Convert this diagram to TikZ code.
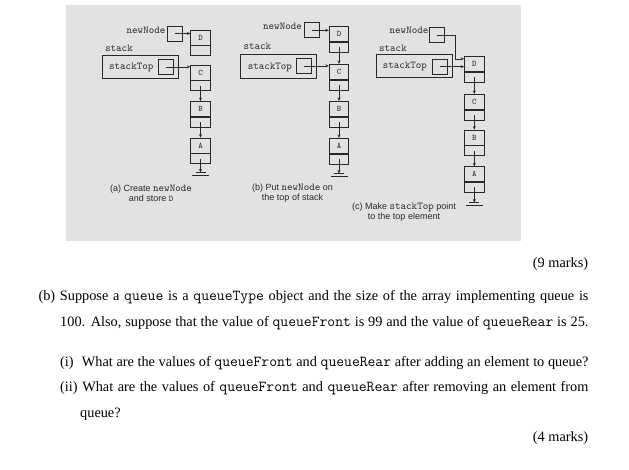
\documentclass[tikz,border=0pt]{standalone}
\usepackage{fontspec}
\setmainfont{Liberation Serif}
\newfontfamily\dsans{Liberation Sans}
\usetikzlibrary{arrows.meta}
\definecolor{bggray}{RGB}{225,226,228}
\definecolor{ink}{RGB}{40,40,40}
\newcommand{\cd}[1]{{\ttfamily\fontsize{15.2}{15}\selectfont #1}}
\newcommand{\dc}[1]{{\ttfamily\fontsize{10.5}{10}\selectfont #1}}
\newcommand{\dcs}[1]{{\ttfamily\fontsize{8.5}{10}\selectfont #1}}
\begin{document}
\begin{tikzpicture}[x=1pt,y=-1pt,
  info/.style={draw=ink, line width=0.7pt, minimum width=19.6pt, minimum height=15pt, inner sep=0pt, font=\ttfamily\fontsize{8.5}{8}\selectfont, text=ink},
  lnk/.style={draw=ink, line width=0.7pt, minimum width=19.6pt, minimum height=10pt, inner sep=0pt, anchor=north},
  ptr/.style={draw=ink, line width=0.7pt, minimum width=15pt, minimum height=15pt, inner sep=0pt},
  frame/.style={draw=ink, line width=0.7pt, inner sep=0pt},
  lbl/.style={font=\ttfamily\fontsize{10.5}{10}\selectfont, text=ink, inner sep=0pt, text height=5.5pt, text depth=0pt},
  capt/.style={font=\dsans\fontsize{9}{10}\selectfont, text=ink, align=center, inner sep=0pt},
  con/.style={draw=ink, line width=0.6pt, -{Stealth[length=3.5pt,width=3pt]}},
  gnd/.style={draw=ink, line width=0.7pt},
  txt/.style={font=\fontsize{14.3}{17}\selectfont, inner sep=0pt, text=black}
]
\fill[white] (0,0) rectangle (629,469);
\useasboundingbox (0,0) rectangle (629,469);
\fill[bggray] (66,5) rectangle (521,241);

% ---------- panel (a)
\node[lbl, anchor=east] (aNewL) at (165.5,31) {newNode};
\node[ptr] (aNew) at (174.5,33.5) {};
\node[lbl, anchor=west] (aStackL) at (105,49) {stack};
\node[frame, minimum width=76pt, minimum height=23.3pt] (aStack) at (140.3,66.7) {};
\node[lbl, anchor=west] (aTopL) at (109,66.7) {stackTop};
\node[ptr] (aTop) at (165.9,66.8) {};
\node[info] (aD) at (200.5,37.5) {D};  \node[lnk] (aDl) at (aD.south) {};
\node[info] (aC) at (200.5,72.5) {C};  \node[lnk] (aCl) at (aC.south) {};
\node[info] (aB) at (200.5,109) {B};   \node[lnk] (aBl) at (aB.south) {};
\node[info] (aA) at (200.5,145.5) {A}; \node[lnk] (aAl) at (aA.south) {};
\draw[con] (aNew.center) -- (aNew.center -| aD.west);
\draw[con] (aTop.center) -- (aTop.center -| aC.west);
\draw[con] (aCl.center) -- (aB.north);
\draw[con] (aBl.center) -- (aA.north);
\coordinate (aG) at (200.5,172.5);
\draw[con] (aAl.center) -- (aG);
\draw[gnd] ([xshift=-5pt]aG) -- ([xshift=5pt]aG);
\draw[gnd] ([xshift=-8.5pt,yshift=-2.5pt]aG) -- ([xshift=8.5pt,yshift=-2.5pt]aG);
\node[capt] (aCap) at (151,193.5) {(a) Create \dc{newNode}\\and store \dcs{D}};

% ---------- panel (b)
\node[lbl, anchor=east] (bNewL) at (302,27) {newNode};
\node[ptr] (bNew) at (311.7,30.3) {};
\node[lbl, anchor=west] (bStackL) at (243.3,46.7) {stack};
\node[frame, minimum width=76pt, minimum height=24pt] (bStack) at (278.7,66.4) {};
\node[lbl, anchor=west] (bTopL) at (247.7,66.7) {stackTop};
\node[ptr] (bTop) at (304.2,65.8) {};
\node[info] (bD) at (339,34.2) {D};    \node[lnk] (bDl) at (bD.south) {};
\node[info] (bC) at (339,71.8) {C};    \node[lnk] (bCl) at (bC.south) {};
\node[info] (bB) at (339,108.8) {B};   \node[lnk] (bBl) at (bB.south) {};
\node[info] (bA) at (339,145.8) {A};   \node[lnk] (bAl) at (bA.south) {};
\draw[con] (bNew.center) -- (bNew.center -| bD.west);
\draw[con] (bTop.center) -- (bTop.center -| bC.west);
\draw[con] (bDl.center) -- (bC.north);
\draw[con] (bCl.center) -- (bB.north);
\draw[con] (bBl.center) -- (bA.north);
\coordinate (bG) at (339,173.5);
\draw[con] (bAl.center) -- (bG);
\draw[gnd] ([xshift=-5pt]bG) -- ([xshift=5pt]bG);
\draw[gnd] ([xshift=-8.5pt,yshift=-2.5pt]bG) -- ([xshift=8.5pt,yshift=-2.5pt]bG);
\node[capt] (bCap) at (292.5,193.3) {(b) Put \dc{newNode} on\\the top of stack};

% ---------- panel (c)
\node[lbl, anchor=east] (cNewL) at (428.5,31) {newNode};
\node[ptr] (cNew) at (436.8,35.2) {};
\node[lbl, anchor=west] (cStackL) at (379,48.3) {stack};
\node[frame, minimum width=76.3pt, minimum height=23.4pt] (cStack) at (414.2,66) {};
\node[lbl, anchor=west] (cTopL) at (382.7,66) {stackTop};
\node[ptr] (cTop) at (439.5,66.7) {};
\node[info] (cD) at (474.3,64.2) {D};  \node[lnk] (cDl) at (cD.south) {};
\node[info] (cC) at (474.3,101.8) {C}; \node[lnk] (cCl) at (cC.south) {};
\node[info] (cB) at (474.3,137.5) {B}; \node[lnk] (cBl) at (cB.south) {};
\node[info] (cA) at (474.3,174.2) {A}; \node[lnk] (cAl) at (cA.south) {};
\coordinate (cBend) at (455,58.8);
\draw[con] (cNew.center) -| (cBend) -- (cBend -| cD.west);
\draw[con] (cTop.center) -- (cTop.center -| cD.west);
\draw[con] (cDl.center) -- (cC.north);
\draw[con] (cCl.center) -- (cB.north);
\draw[con] (cBl.center) -- (cA.north);
\coordinate (cG) at (474.3,202.5);
\draw[con] (cAl.center) -- (cG);
\draw[gnd] ([xshift=-5pt]cG) -- ([xshift=5pt]cG);
\draw[gnd] ([xshift=-8.5pt,yshift=-2.5pt]cG) -- ([xshift=8.5pt,yshift=-2.5pt]cG);
\node[capt] (cCap) at (404,212.4) {(c) Make \dc{stackTop} point\\to the top element};

% ---------- question text
\node[txt, anchor=base east] (m9) at (588.3,267) {(9 marks)};
\node[txt, anchor=base west] (l1) at (38.3,300) {\makebox[550pt][s]{(b) Suppose a \cd{queue} is a \cd{queueType} object and the size of the array implementing queue is}};
\node[txt, anchor=base west] (l2) at (60,326) {\makebox[528.3pt][s]{100. Also, suppose that the value of \cd{queueFront} is 99 and the value of \cd{queueRear} is 25.}};
\node[txt, anchor=base west] (i1) at (60,366) {(i)};
\node[txt, anchor=base west] (i2) at (81.7,366) {\makebox[506.6pt][s]{What are the values of \cd{queueFront} and \cd{queueRear} after adding an element to queue?}};
\node[txt, anchor=base west] (ii1) at (60,391.5) {\makebox[528.3pt][s]{(ii) What are the values of \cd{queueFront} and \cd{queueRear} after removing an element from}};
\node[txt, anchor=base west] (ii2) at (80,417) {queue?};
\node[txt, anchor=base east] (m4) at (588.3,441) {(4 marks)};
\end{tikzpicture}
\end{document}
